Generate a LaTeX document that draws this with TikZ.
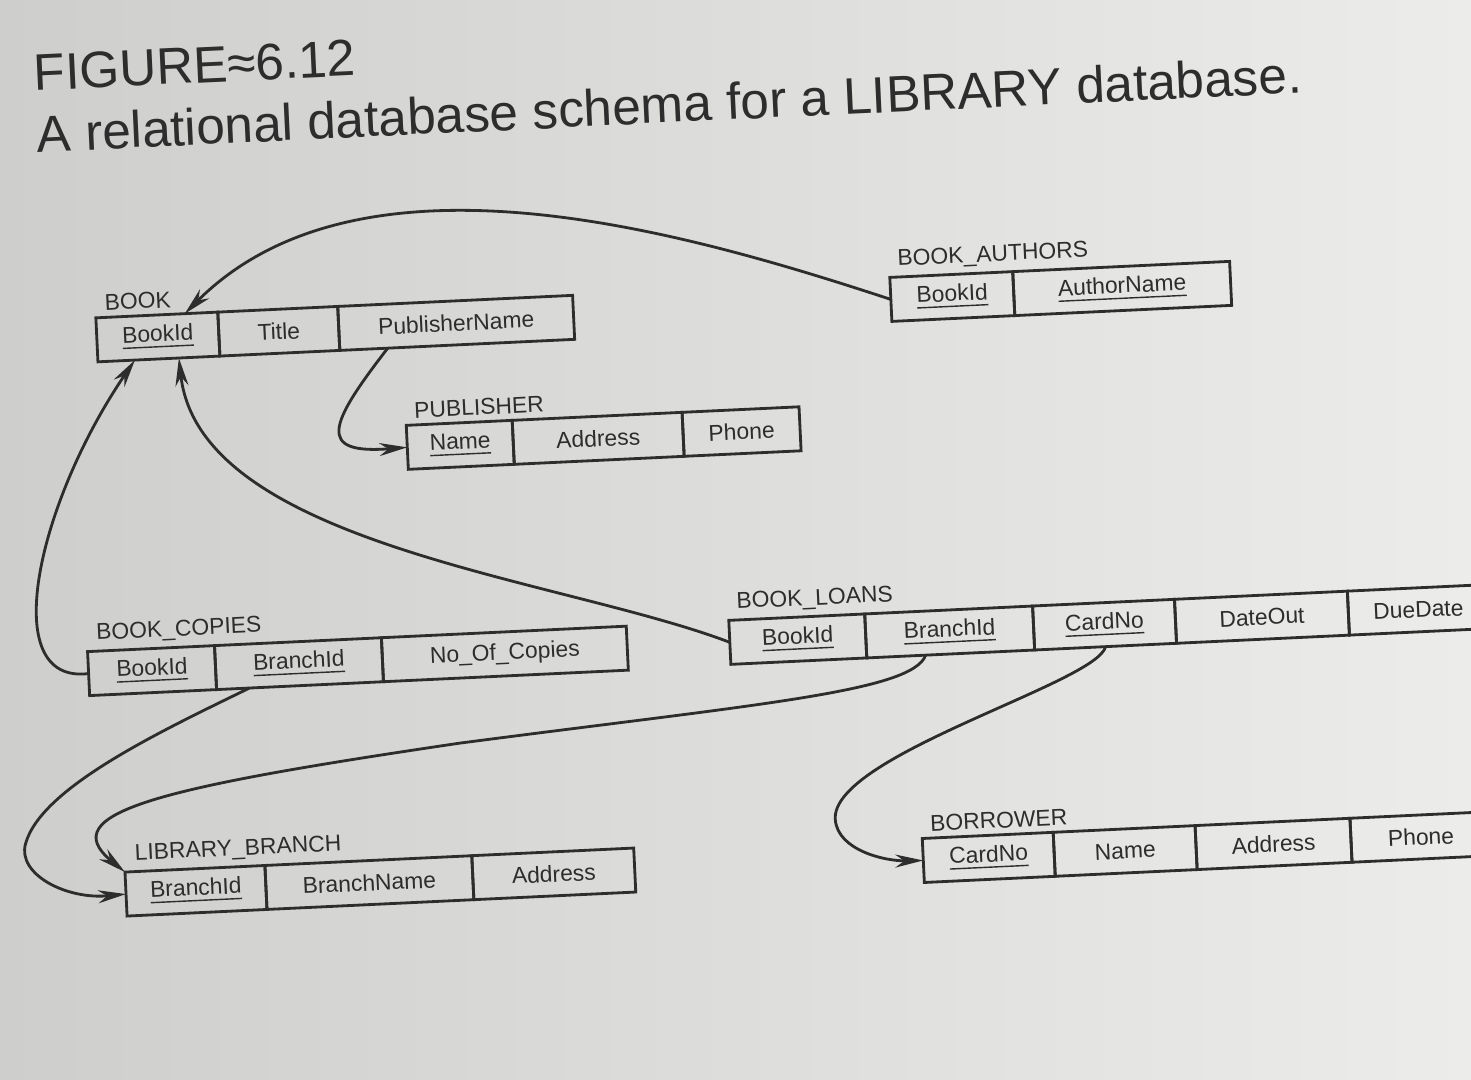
\documentclass[tikz,border=0pt]{standalone}
\usepackage{fontspec}
\setmainfont{Liberation Sans}
\usetikzlibrary{arrows.meta, positioning}
\definecolor{paperL}{RGB}{206,206,204}
\definecolor{paperR}{RGB}{236,236,234}
\definecolor{ink}{RGB}{45,45,45}

\begin{document}
\begin{tikzpicture}[x=0.01cm, y=-0.01cm,
    attr/.style={draw=ink, line width=0.8pt, minimum height=0.44cm, inner sep=0pt, outer sep=0pt,
                 anchor=north west, text=ink, font=\fontsize{6.5}{7}\selectfont},
    tname/.style={inner sep=0pt, text=ink, font=\fontsize{6.5}{7}\selectfont},
    title/.style={anchor=base west, align=left, inner sep=0pt, text=ink, font=\fontsize{14.6}{17.6}\selectfont},
    fk/.style={->, >={Stealth[length=2.8mm, width=1.3mm]}, draw=ink, line width=0.8pt}]
	% Paper
	\shade[left color=paperL, right color=paperR] (0,0) rectangle (1471,1080);
	\useasboundingbox (0,0) rectangle (1471,1080);

	\begin{scope}[rotate around={2.7:(735,540)}, transform shape]
		% Caption
		\node[title] (cap) at (56,120) {FIGURE≈6.12\\A relational database schema for a LIBRARY database.};

		% BOOK
		\node[attr, minimum width=1.22cm] (book-bookid) at (107,288) {\underline{BookId}};
		\node[attr, minimum width=1.20cm, right=0pt of book-bookid] (book-title) {Title};
		\node[attr, minimum width=2.35cm, right=0pt of book-title] (book-pubname) {PublisherName};
		\node[tname, above right=0.06cm and 0.09cm of book-bookid.north west] (book) {BOOK};

		% BOOK_AUTHORS
		\node[attr, minimum width=1.23cm] (ba-bookid) at (902,285) {\underline{BookId}};
		\node[attr, minimum width=2.17cm, right=0pt of ba-bookid] (ba-author) {\underline{AuthorName}};
		\node[tname, above right=0.06cm and 0.08cm of ba-bookid.north west] (ba) {BOOK\_AUTHORS};

		% PUBLISHER
		\node[attr, minimum width=1.06cm] (pub-name) at (412,410) {\underline{Name}};
		\node[attr, minimum width=1.70cm, right=0pt of pub-name] (pub-addr) {Address};
		\node[attr, minimum width=1.17cm, right=0pt of pub-addr] (pub-phone) {Phone};
		\node[tname, above right=0.06cm and 0.08cm of pub-name.north west] (pub) {PUBLISHER};

		% BOOK_COPIES
		\node[attr, minimum width=1.27cm] (bc-bookid) at (83,621) {\underline{BookId}};
		\node[attr, minimum width=1.67cm, right=0pt of bc-bookid] (bc-branchid) {\underline{BranchId}};
		\node[attr, minimum width=2.45cm, right=0pt of bc-branchid] (bc-copies) {No\_Of\_Copies};
		\node[tname, above right=0.06cm and 0.09cm of bc-bookid.north west] (bc) {BOOK\_COPIES};

		% BOOK_LOANS
		\node[attr, minimum width=1.36cm] (bl-bookid) at (725,620) {\underline{BookId}};
		\node[attr, minimum width=1.68cm, right=0pt of bl-bookid] (bl-branchid) {\underline{BranchId}};
		\node[attr, minimum width=1.42cm, right=0pt of bl-branchid] (bl-cardno) {\underline{CardNo}};
		\node[attr, minimum width=1.73cm, right=0pt of bl-cardno] (bl-dateout) {DateOut};
		\node[attr, minimum width=1.40cm, right=0pt of bl-dateout] (bl-duedate) {DueDate};
		\node[tname, above right=0.06cm and 0.08cm of bl-bookid.north west] (bl) {BOOK\_LOANS};

		% LIBRARY_BRANCH
		\node[attr, minimum width=1.40cm] (lb-branchid) at (110,843) {\underline{BranchId}};
		\node[attr, minimum width=2.07cm, right=0pt of lb-branchid] (lb-name) {BranchName};
		\node[attr, minimum width=1.62cm, right=0pt of lb-name] (lb-addr) {Address};
		\node[tname, above right=0.06cm and 0.10cm of lb-branchid.north west] (lb) {LIBRARY\_BRANCH};

		% BORROWER
		\node[attr, minimum width=1.31cm] (bor-cardno) at (908,847) {\underline{CardNo}};
		\node[attr, minimum width=1.42cm, right=0pt of bor-cardno] (bor-name) {Name};
		\node[attr, minimum width=1.55cm, right=0pt of bor-name] (bor-addr) {Address};
		\node[attr, minimum width=1.40cm, right=0pt of bor-addr] (bor-phone) {Phone};
		\node[tname, above right=0.06cm and 0.08cm of bor-cardno.north west] (bor) {BORROWER};

		% Foreign keys into BOOK
		\draw[fk] (ba-bookid.west) .. controls (700,230) and (380,120) .. ([xshift=0.28cm]book-bookid.north);
		\draw[fk] (bc-bookid.west) .. controls (-10,650) and (40,470) .. ([xshift=-0.24cm]book-bookid.south);
		\draw[fk] (bl-bookid.west) .. controls (560,570) and (200,520) .. ([xshift=0.2cm]book-bookid.south);

		% Foreign key into PUBLISHER
		\draw[fk] ([xshift=0.48cm]book-pubname.south west) .. controls (335,405) and (320,435) .. (pub-name.west);

		% Foreign keys into LIBRARY_BRANCH
		\draw[fk] ([xshift=0.33cm]bc-branchid.south west) .. controls (150,705) and (30,755) .. (12,810)
			.. controls (2,840) and (50,868) .. (lb-branchid.west);
		\draw[fk] ([xshift=-0.25cm]bl-branchid.south) .. controls (905,700) and (750,705) .. (450,730)
			.. controls (150,760) and (40,780) .. (lb-branchid.north west);

		% Foreign key into BORROWER
		\draw[fk] (bl-cardno.south) .. controls (1090,700) and (820,760) .. (822,824)
			.. controls (823,855) and (870,868) .. (bor-cardno.west);
	\end{scope}
\end{tikzpicture}
\end{document}
